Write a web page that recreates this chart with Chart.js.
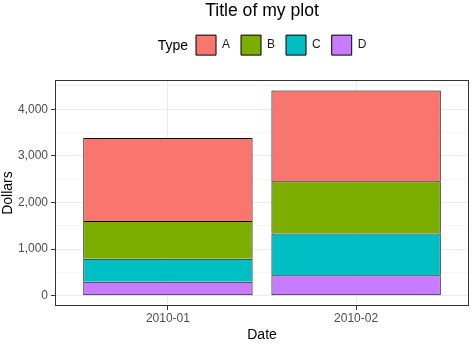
<!DOCTYPE html>
<html>
<head>
<meta charset="utf-8">
<script src="https://cdn.jsdelivr.net/npm/chart.js@4"></script>
<style>
  html, body { margin: 0; padding: 0; background: #fff; }
  #wrap { width: 474px; height: 344px; }
</style>
</head>
<body>
<div id="wrap"><canvas id="plot"></canvas></div>
<script>
// stacked dollars per month
const dates = ['2010-01', '2010-02'];
const types = ['A', 'B', 'C', 'D'];
const typeColors = ['#F8766D', '#7CAE00', '#00BFC4', '#C77CFF'];
const valuesA = [1780, 1950];
const valuesB = [810, 1120];
const valuesC = [495, 895];
const valuesD = [300, 440];
const yTickValues = [0, 1000, 2000, 3000, 4000];
const yTickLabels = ['0', '1,000', '2,000', '3,000', '4,000'];
const yMinorValues = [500, 1500, 2500, 3500, 4500];

const FONT = "'Liberation Sans', Arial, sans-serif";
const seriesValues = [valuesA, valuesB, valuesC, valuesD];

// ggplot pads the value axis by 5% on each side
const totals = dates.map((d, j) => seriesValues.reduce((s, v) => s + v[j], 0));
const topTotal = Math.max(...totals);
const yMin = -0.05 * topTotal;
const yMax = 1.05 * topTotal;

// D goes first so it sits at the bottom of each stack; legend is reversed back to A..D
const datasets = types.map((t, i) => ({
  label: t,
  data: dates.map((d, j) => ({ x: j + 1, y: seriesValues[i][j] })),
  backgroundColor: typeColors[i],
  borderColor: '#000000',
  borderWidth: 1,
  borderSkipped: i === types.length - 1 ? false : 'start',
  barPercentage: 0.9,
  categoryPercentage: 1.0
})).reverse();

const isMajor = v => yTickValues.indexOf(v) >= 0;

// panel border + the "Type" legend title to the left of the keys
const ggExtras = {
  id: 'ggExtras',
  afterLayout(chart) {
    const ctx = chart.ctx;
    ctx.save();
    ctx.font = '14px ' + FONT;
    const shift = (ctx.measureText('Type').width + 8) / 2;
    ctx.restore();
    chart.legend.left += shift;
    chart.legend.right += shift;
  },
  afterDraw(chart) {
    const { ctx, chartArea: a } = chart;
    ctx.save();
    ctx.strokeStyle = '#333333';
    ctx.lineWidth = 1;
    ctx.strokeRect(Math.round(a.left) + 0.5, Math.round(a.top) + 0.5,
                   Math.round(a.right - a.left) - 1, Math.round(a.bottom - a.top) - 1);
    const hb = chart.legend.legendHitBoxes[0];
    ctx.fillStyle = '#000000';
    ctx.font = '14px ' + FONT;
    ctx.textAlign = 'right';
    ctx.textBaseline = 'middle';
    ctx.fillText('Type', hb.left - 8, hb.top + hb.height / 2 + 1);
    ctx.restore();
  }
};

new Chart(document.getElementById('plot'), {
  type: 'bar',
  data: { datasets },
  plugins: [ggExtras],
  options: {
    responsive: true,
    maintainAspectRatio: false,
    animation: false,
    layout: { padding: { left: 0, right: 5, top: 0, bottom: 0 } },
    plugins: {
      title: {
        display: true,
        text: 'Title of my plot',
        fullSize: false,
        color: '#000000',
        font: { family: FONT, size: 17.6, weight: 'normal' },
        padding: { top: 1, bottom: 2 }
      },
      // empty subtitle used as a spacer between legend and panel
      subtitle: {
        display: true,
        text: '',
        fullSize: false,
        weight: 900,
        font: { size: 10, lineHeight: 1 },
        padding: { top: 5, bottom: 0 }
      },
      legend: {
        position: 'top',
        fullSize: false,
        reverse: true,
        labels: {
          boxWidth: 20,
          boxHeight: 20,
          padding: 11,
          color: '#1a1a1a',
          font: { family: FONT, size: 12 }
        }
      },
      tooltip: { enabled: false }
    },
    scales: {
      x: {
        type: 'linear',
        min: 0.4,
        max: dates.length + 0.6,
        offset: false,
        stacked: true,
        border: { display: false },
        grid: { offset: false, color: '#EBEBEB', tickColor: '#333333', tickLength: 4 },
        // one tick per date, at the bar centres
        afterBuildTicks: s => { s.ticks = dates.map((d, j) => ({ value: j + 1 })); },
        ticks: {
          autoSkip: false,
          maxRotation: 0,
          padding: 3,
          color: '#4D4D4D',
          font: { family: FONT, size: 12, lineHeight: 1 },
          callback: v => dates[v - 1] || ''
        },
        title: {
          display: true,
          text: 'Date',
          color: '#000000',
          font: { family: FONT, size: 14, lineHeight: 1 },
          padding: { top: 0, bottom: 2 }
        }
      },
      y: {
        min: yMin,
        max: yMax,
        stacked: true,
        border: { display: false },
        grid: {
          color: c => (c.tick && isMajor(c.tick.value)) ? '#EBEBEB' : '#F4F4F4',
          tickColor: c => (c.tick && isMajor(c.tick.value)) ? '#333333' : 'rgba(0,0,0,0)',
          tickLength: 4
        },
        // major + minor grid positions, like ggplot
        afterBuildTicks: s => {
          s.ticks = yTickValues.concat(yMinorValues).sort((a, b) => a - b).map(v => ({ value: v }));
        },
        ticks: {
          autoSkip: false,
          padding: 3,
          color: '#4D4D4D',
          font: { family: FONT, size: 12, lineHeight: 1 },
          callback: v => {
            const i = yTickValues.indexOf(v);
            return i >= 0 ? yTickLabels[i] : '';
          }
        },
        title: {
          display: true,
          text: 'Dollars',
          color: '#000000',
          font: { family: FONT, size: 14, lineHeight: 1 },
          padding: { top: 1, bottom: 0 }
        }
      }
    }
  }
});
</script>
</body>
</html>
